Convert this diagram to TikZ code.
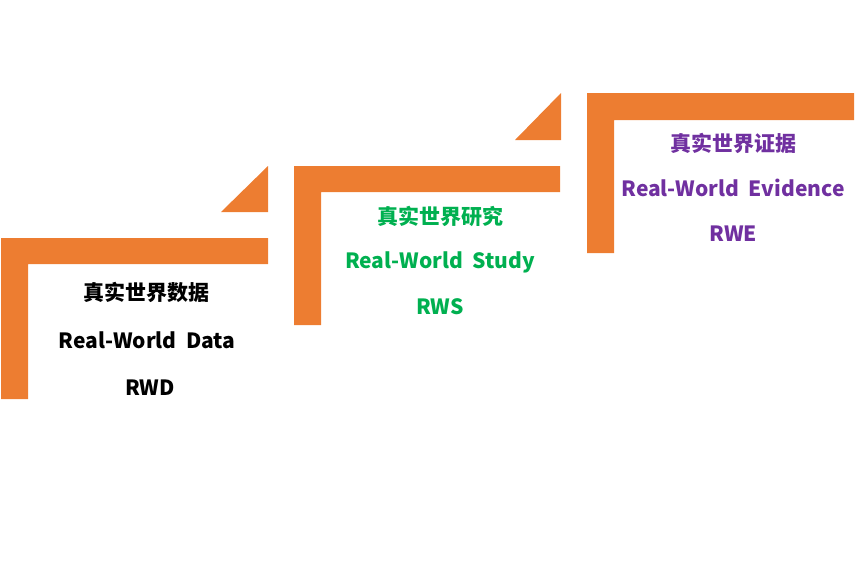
\documentclass[tikz,border=0pt]{standalone}
\usepackage{fontspec}
\setmainfont{Noto Sans CJK SC}
\definecolor{stairorange}{HTML}{ED7D31}
\definecolor{rwdblack}{HTML}{000000}
\definecolor{rwsgreen}{HTML}{00B050}
\definecolor{rwepurple}{HTML}{7030A0}
\tikzset{
  steplabel/.style={font=\fontsize{21}{24}\selectfont\bfseries, anchor=center, inner sep=0pt},
}
\begin{document}
\begin{tikzpicture}[x=1pt,y=-1pt]
                \useasboundingbox (0,0) rectangle (861,568);
                
                % Drawing step RWD
                \fill [stairorange] (1,238) -- (268,238) -- (268,264) -- (28,264) -- (28,399) -- (1,399) -- cycle;%
                \fill [stairorange] (268,166) -- (268,212) -- (221,212) -- cycle;%
                
                % Drawing step RWS
                \fill [stairorange] (294,166) -- (560,166) -- (560,192) -- (321,192) -- (321,325) -- (294,325) -- cycle;%
                \fill [stairorange] (561,93) -- (561,140) -- (515,140) -- cycle;%
                
                % Drawing step RWE
                \fill [stairorange] (587,93) -- (854,93) -- (854,120) -- (614,120) -- (614,253) -- (587,253) -- cycle;%
                
                % Marking labels of RWD
                \node [steplabel, text=rwdblack] (rwdcn) at (146,292) {真实世界数据};%
                \node [steplabel, text=rwdblack] (rwden) at (147,340) {Real-World\ \ Data};%
                \node [steplabel, text=rwdblack] (rwdab) at (150,388) {RWD};%
                
                % Marking labels of RWS
                \node [steplabel, text=rwsgreen] (rwscn) at (440,216) {真实世界研究};%
                \node [steplabel, text=rwsgreen] (rwsen) at (440,262) {Real-World\ \ Study};%
                \node [steplabel, text=rwsgreen] (rwsab) at (440,307) {RWS};%
                
                % Marking labels of RWE
                \node [steplabel, text=rwepurple] (rwecn) at (733,143) {真实世界证据};%
                \node [steplabel, text=rwepurple] (rween) at (733,188) {Real-World\ \ Evidence};%
                \node [steplabel, text=rwepurple] (rweab) at (733,234) {RWE};%
\end{tikzpicture}
\end{document}
